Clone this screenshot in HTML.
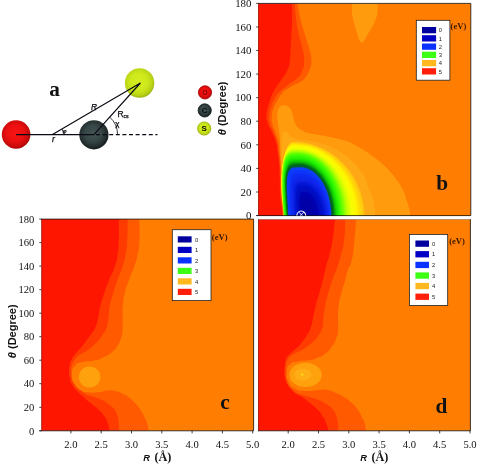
<!DOCTYPE html>
<html><head><meta charset="utf-8"><title>Potential energy surfaces</title>
<style>
html,body{margin:0;padding:0;background:#fff}
svg{display:block}
</style></head>
<body>
<svg width="477" height="465" viewBox="0 0 477 465">
<defs>
<clipPath id="cb"><rect x="258.2" y="3.4" width="212.6" height="212.5"/></clipPath>
<clipPath id="cc"><rect x="41.4" y="219.1" width="212.3" height="211.7"/></clipPath>
<clipPath id="cd"><rect x="258.2" y="219.5" width="212.4" height="211.3"/></clipPath>
<radialGradient id="gR" cx="0.47" cy="0.45" r="0.58"><stop offset="0" stop-color="#F81414"/><stop offset="0.5" stop-color="#EC1010"/><stop offset="0.8" stop-color="#CC0A0A"/><stop offset="1" stop-color="#980606"/></radialGradient>
<radialGradient id="gC" cx="0.47" cy="0.45" r="0.58"><stop offset="0" stop-color="#435454"/><stop offset="0.5" stop-color="#364545"/><stop offset="0.8" stop-color="#222C2C"/><stop offset="1" stop-color="#0C1212"/></radialGradient>
<radialGradient id="gS" cx="0.47" cy="0.45" r="0.58"><stop offset="0" stop-color="#D6EE20"/><stop offset="0.5" stop-color="#CEE81C"/><stop offset="0.8" stop-color="#BAD416"/><stop offset="1" stop-color="#96AA10"/></radialGradient>
<filter id="bl" x="-2%" y="-2%" width="104%" height="104%"><feGaussianBlur stdDeviation="0.55"/></filter>
</defs>
<rect width="477" height="465" fill="#fff"/>
<g clip-path="url(#cb)"><g filter="url(#bl)">
<rect x="254.2" y="-0.6" width="220.6" height="220.5" fill="#FF7D00"/>
<path d="M351.9 -2.0L352.0 14.8L354.8 25.8L358.7 38.7L361.0 42.6L362.6 42.8L365.2 38.7L369.0 32.3L373.0 25.8L377.4 14.8L378.0 -2.0Z" fill="#FF9B0E"/>
<path d="M410.3 222.0C410.3 220.3 410.7 221.7 410.3 217.0C409.9 212.3 410.3 213.7 409.0 208.0C407.7 202.3 408.5 206.0 406.5 200.0C404.5 194.0 406.1 196.6 402.9 190.0C399.7 183.4 401.2 186.3 397.0 180.3C392.8 174.3 395.3 177.5 390.3 171.9C385.3 166.3 387.5 168.5 381.9 163.5C376.3 158.5 379.1 161.0 373.5 156.8C367.9 152.6 370.8 154.6 365.2 151.0C359.6 147.4 362.4 149.0 356.8 145.9C351.2 142.8 354.0 143.9 348.4 141.7C342.8 139.5 345.4 140.6 340.0 139.2C334.6 137.8 338.0 138.9 332.2 137.6C326.4 136.3 329.0 136.6 322.7 135.4C316.4 134.2 318.7 134.9 313.3 133.9C307.9 132.9 310.3 133.6 306.5 132.5C302.7 131.4 304.8 132.3 302.0 130.6C299.2 128.9 300.3 129.9 298.0 127.5C295.7 125.1 296.7 126.7 295.2 123.5C293.7 120.3 294.7 122.2 293.5 118.0C292.3 113.8 293.2 114.7 291.5 111.0C289.8 107.3 290.8 108.9 288.3 107.0C285.8 105.1 286.8 105.3 284.0 105.3C281.2 105.3 282.1 105.1 280.0 107.0C277.9 108.9 278.7 108.0 277.8 111.0C276.9 114.0 277.1 111.0 277.3 116.0C277.5 121.0 277.4 118.0 278.3 126.0C279.2 134.0 279.3 130.3 280.0 140.0C280.7 149.7 280.2 138.3 280.5 155.0C280.8 171.7 280.2 169.3 281.0 190.0C281.8 210.7 282.3 206.3 283.0 217.0C283.7 227.7 283.0 220.3 283.0 222.0Z" fill="#FF9B0E"/>
<path d="M375.4 222.0C375.4 220.3 375.8 223.0 375.4 217.0C375.0 211.0 375.2 210.7 374.2 204.0C373.2 197.3 374.1 201.7 372.5 197.0C370.9 192.3 371.7 196.1 369.3 190.0C366.9 183.9 367.8 184.6 365.2 178.6C362.6 172.6 364.3 176.2 361.5 172.0C358.7 167.8 361.2 170.8 356.8 166.0C352.4 161.2 354.0 162.4 348.4 157.7C342.8 153.0 345.5 155.2 340.0 151.8C334.5 148.4 337.3 150.0 332.0 147.5C326.7 145.0 331.5 146.6 324.0 144.4C316.5 142.2 318.2 142.6 309.4 141.0C300.6 139.4 303.7 141.1 297.6 139.6C291.5 138.1 294.0 138.5 291.0 136.5C288.0 134.5 290.3 135.2 288.5 133.5C286.7 131.8 287.4 131.5 285.5 131.5C283.6 131.5 284.0 130.7 282.8 133.5C281.6 136.3 282.2 134.5 281.8 140.0C281.4 145.5 281.4 133.3 281.5 150.0C281.6 166.7 281.2 167.7 282.0 190.0C282.8 212.3 283.3 206.3 284.0 217.0C284.7 227.7 284.0 220.3 284.0 222.0Z" fill="#FFA812"/>
<path d="M364.6 217.0L364.1 208.6L362.8 200.2L360.6 192.1L357.5 184.3L353.6 176.9L349.0 170.1L343.6 163.8L337.6 158.1L331.1 153.2L324.1 149.2L316.6 145.9L308.9 143.6L301.0 142.2L293.0 141.7L291.3 142.2L289.6 143.6L288.1 145.9L286.6 149.2L285.3 153.2L284.1 158.1L283.2 163.8L282.5 170.1L281.9 176.9L281.6 184.3L281.5 192.1L281.6 200.2L281.9 208.6L282.3 217.0L282.5 222.0L364.6 222.0Z" fill="#FFC410"/>
<path d="M363.5 217.0L363.0 208.6L361.7 200.4L359.5 192.3L356.5 184.5L352.7 177.2L348.1 170.4L342.9 164.1L337.0 158.5L330.6 153.7L323.7 149.6L316.5 146.4L308.9 144.1L301.2 142.7L293.3 142.2L291.4 142.7L289.7 144.0L288.1 146.2L286.6 149.3L285.3 153.2L284.1 157.9L283.2 163.3L282.4 169.4L281.9 176.1L281.6 183.4L281.5 191.1L281.6 199.3L281.9 207.8L282.4 217.0L282.6 222.0L363.5 222.0Z" fill="#FFCA0D"/>
<path d="M362.3 217.0L361.9 208.7L360.6 200.5L358.4 192.5L355.5 184.8L351.8 177.5L347.3 170.7L342.2 164.5L336.4 158.9L330.2 154.1L323.4 150.1L316.3 146.9L308.9 144.6L301.3 143.2L293.6 142.7L291.5 143.1L289.7 144.4L288.1 146.5L286.6 149.5L285.2 153.2L284.1 157.8L283.2 163.0L282.4 168.9L281.9 175.4L281.6 182.5L281.5 190.2L281.6 198.4L281.9 207.1L282.5 217.0L282.7 222.0L362.3 222.0Z" fill="#FFD10B"/>
<path d="M361.2 217.0L360.7 208.7L359.5 200.6L357.4 192.6L354.5 185.0L350.8 177.7L346.5 171.0L341.5 164.8L335.8 159.3L329.7 154.5L323.1 150.5L316.1 147.3L308.9 145.0L301.4 143.7L293.9 143.2L291.6 143.6L289.8 144.8L288.1 146.9L286.6 149.7L285.2 153.3L284.1 157.6L283.2 162.7L282.4 168.4L281.9 174.8L281.6 181.7L281.5 189.3L281.7 197.5L282.0 206.4L282.6 217.0L282.8 222.0L361.2 222.0Z" fill="#FFD708"/>
<path d="M360.0 217.0L359.6 208.8L358.4 200.7L356.3 192.8L353.5 185.2L349.9 178.0L345.6 171.3L340.7 165.2L335.2 159.7L329.2 154.9L322.8 151.0L315.9 147.8L308.9 145.5L301.6 144.2L294.2 143.7L291.7 144.1L289.8 145.3L288.1 147.2L286.5 149.9L285.2 153.4L284.1 157.6L283.2 162.4L282.4 168.0L281.9 174.2L281.6 181.0L281.6 188.5L281.7 196.6L282.0 205.7L282.6 217.0L282.8 222.0L360.0 222.0Z" fill="#FFDF06"/>
<path d="M358.9 217.0L358.4 208.8L357.2 200.8L355.2 193.0L352.5 185.4L349.0 178.3L344.8 171.6L340.0 165.5L334.6 160.1L328.7 155.4L322.4 151.4L315.8 148.3L308.8 146.0L301.7 144.7L294.5 144.2L291.8 144.6L289.8 145.7L288.1 147.6L286.5 150.2L285.2 153.5L284.1 157.5L283.2 162.2L282.4 167.6L281.9 173.7L281.7 180.3L281.6 187.7L281.7 195.8L282.0 205.0L282.7 217.0L282.9 222.0L358.9 222.0Z" fill="#FFE804"/>
<path d="M357.7 217.0L357.3 208.9L356.1 200.9L354.2 193.1L351.5 185.6L348.1 178.5L344.0 171.9L339.3 165.9L334.0 160.5L328.3 155.8L322.1 151.9L315.6 148.8L308.8 146.5L301.9 145.2L294.8 144.7L291.9 145.1L289.9 146.1L288.1 147.9L286.5 150.4L285.2 153.6L284.1 157.5L283.2 162.1L282.5 167.3L282.0 173.2L281.7 179.7L281.6 187.0L281.7 195.0L282.1 204.3L282.8 217.0L283.0 222.0L357.7 222.0Z" fill="#FFF101"/>
<path d="M356.6 217.0L356.2 209.0L355.0 201.0L353.1 193.3L350.5 185.9L347.1 178.8L343.1 172.3L338.5 166.3L333.4 160.9L327.8 156.3L321.7 152.4L315.4 149.3L308.8 147.1L302.0 145.7L295.1 145.3L292.0 145.6L289.9 146.6L288.1 148.4L286.5 150.8L285.2 153.9L284.1 157.6L283.2 162.0L282.5 167.1L282.0 172.8L281.7 179.2L281.6 186.3L281.8 194.3L282.1 203.6L282.9 217.0L283.1 222.0L356.6 222.0Z" fill="#FEF700"/>
<path d="M355.4 217.0L355.0 209.0L353.9 201.2L352.0 193.5L349.4 186.2L346.2 179.2L342.3 172.7L337.8 166.7L332.8 161.4L327.3 156.8L321.4 153.0L315.1 149.9L308.7 147.7L302.0 146.4L295.3 145.9L292.0 146.3L289.9 147.2L288.1 148.9L286.5 151.2L285.2 154.2L284.1 157.8L283.2 162.0L282.5 166.9L282.0 172.5L281.8 178.8L281.7 185.8L281.8 193.7L282.2 203.0L283.0 217.0L283.2 222.0L355.4 222.0Z" fill="#FBF900"/>
<path d="M354.3 217.0L353.9 209.1L352.8 201.3L351.0 193.7L348.4 186.4L345.2 179.5L341.4 173.1L337.0 167.2L332.1 161.9L326.7 157.4L321.0 153.6L314.9 150.5L308.6 148.3L302.1 147.0L295.5 146.6L292.0 146.9L289.9 147.9L288.1 149.4L286.5 151.7L285.2 154.5L284.1 158.0L283.3 162.1L282.6 166.9L282.1 172.3L281.8 178.4L281.8 185.2L281.9 193.1L282.3 202.4L283.1 217.0L283.3 222.0L354.3 222.0Z" fill="#F8FB00"/>
<path d="M353.1 217.0L352.7 209.2L351.7 201.5L349.9 194.0L347.4 186.7L344.3 179.9L340.6 173.5L336.3 167.7L331.5 162.5L326.2 157.9L320.6 154.2L314.6 151.2L308.5 149.0L302.1 147.7L295.7 147.2L292.1 147.6L289.9 148.5L288.1 150.0L286.5 152.1L285.2 154.9L284.2 158.2L283.3 162.2L282.6 166.8L282.2 172.1L281.9 178.0L281.8 184.8L282.0 192.5L282.4 201.8L283.2 217.0L283.4 222.0L353.1 222.0Z" fill="#F5FD00"/>
<path d="M352.0 217.0L351.6 209.3L350.5 201.6L348.8 194.2L346.4 187.0L343.4 180.2L339.7 173.9L335.5 168.1L330.8 163.0L325.7 158.5L320.2 154.8L314.4 151.8L308.4 149.6L302.2 148.3L295.9 147.9L292.1 148.2L289.9 149.1L288.1 150.6L286.5 152.6L285.3 155.3L284.2 158.5L283.4 162.4L282.7 166.8L282.2 171.9L282.0 177.7L281.9 184.4L282.1 192.0L282.4 201.3L283.3 217.0L283.5 222.0L352.0 222.0Z" fill="#F1FF00"/>
<path d="M350.8 217.0L350.5 209.3L349.4 201.8L347.7 194.4L345.4 187.3L342.4 180.6L338.9 174.3L334.8 168.6L330.2 163.5L325.2 159.1L319.8 155.3L314.2 152.4L308.3 150.3L302.2 149.0L296.1 148.6L292.1 148.9L289.9 149.7L288.1 151.1L286.6 153.1L285.3 155.7L284.2 158.8L283.4 162.5L282.8 166.8L282.3 171.8L282.1 177.5L282.0 184.0L282.1 191.5L282.5 200.8L283.4 217.0L283.6 222.0L350.8 222.0Z" fill="#E3FF00"/>
<path d="M349.7 217.0L349.3 209.4L348.3 201.9L346.7 194.6L344.4 187.6L341.5 180.9L338.0 174.7L334.0 169.1L329.6 164.0L324.7 159.6L319.4 155.9L313.9 153.0L308.2 150.9L302.3 149.7L296.3 149.2L292.1 149.5L289.9 150.3L288.1 151.7L286.6 153.6L285.3 156.1L284.3 159.1L283.5 162.7L282.8 166.9L282.4 171.7L282.1 177.3L282.1 183.6L282.2 191.1L282.6 200.3L283.5 217.0L283.7 222.0L349.7 222.0Z" fill="#D5FF00"/>
<path d="M348.5 217.0L348.2 209.5L347.2 202.1L345.6 194.8L343.3 187.9L340.5 181.3L337.2 175.2L333.3 169.6L328.9 164.5L324.2 160.2L319.0 156.5L313.7 153.7L308.1 151.6L302.3 150.3L296.5 149.9L292.2 150.2L289.9 150.9L288.1 152.3L286.6 154.1L285.4 156.5L284.3 159.4L283.5 162.9L282.9 167.0L282.5 171.7L282.2 177.1L282.2 183.3L282.3 190.6L282.7 199.8L283.7 217.0L283.9 222.0L348.5 222.0Z" fill="#C7FF00"/>
<path d="M347.4 217.0L347.0 209.6L346.1 202.2L344.5 195.1L342.3 188.2L339.6 181.7L336.3 175.6L332.5 170.0L328.3 165.1L323.6 160.8L318.7 157.2L313.4 154.3L308.0 152.2L302.4 151.0L296.7 150.6L292.2 150.8L289.9 151.6L288.1 152.9L286.6 154.6L285.4 156.9L284.4 159.8L283.6 163.1L283.0 167.1L282.6 171.7L282.3 176.9L282.3 183.0L282.4 190.3L282.8 199.4L283.8 217.0L284.0 222.0L347.4 222.0Z" fill="#B5FF00"/>
<path d="M346.2 217.0L345.9 209.6L345.0 202.4L343.4 195.3L341.3 188.5L338.6 182.0L335.4 176.0L331.8 170.5L327.6 165.6L323.1 161.3L318.3 157.8L313.2 155.0L307.9 152.9L302.4 151.7L296.9 151.3L292.2 151.5L289.9 152.2L288.2 153.5L286.7 155.2L285.5 157.4L284.5 160.2L283.7 163.4L283.1 167.3L282.7 171.7L282.4 176.8L282.4 182.8L282.5 189.9L282.9 198.9L283.9 217.0L284.1 222.0L346.2 222.0Z" fill="#9EFF00"/>
<path d="M345.1 217.0L344.7 209.7L343.8 202.5L342.4 195.5L340.3 188.8L337.7 182.4L334.6 176.4L331.0 171.0L327.0 166.1L322.6 161.9L317.9 158.4L312.9 155.6L307.7 153.6L302.4 152.4L297.1 152.0L292.3 152.2L290.0 152.9L288.2 154.1L286.7 155.7L285.6 157.9L284.6 160.5L283.8 163.7L283.2 167.4L282.8 171.8L282.5 176.8L282.5 182.6L282.6 189.6L283.0 198.5L284.1 217.0L284.3 222.0L345.1 222.0Z" fill="#87FF00"/>
<path d="M343.9 217.0L343.6 209.8L342.7 202.7L341.3 195.7L339.3 189.1L336.8 182.8L333.7 176.9L330.2 171.5L326.3 166.7L322.1 162.5L317.5 159.0L312.7 156.3L307.6 154.3L302.5 153.1L297.3 152.7L292.3 152.9L290.0 153.6L288.2 154.7L286.8 156.3L285.6 158.4L284.7 161.0L283.9 164.0L283.3 167.6L282.9 171.8L282.7 176.7L282.6 182.4L282.7 189.3L283.1 198.2L284.2 217.0L284.4 222.0L343.9 222.0Z" fill="#71FF00"/>
<path d="M342.8 217.0L342.5 209.9L341.6 202.8L340.2 196.0L338.3 189.4L335.8 183.1L332.9 177.3L329.5 172.0L325.7 167.2L321.6 163.1L317.1 159.7L312.4 156.9L307.5 154.9L302.5 153.7L297.5 153.3L292.4 153.6L290.1 154.2L288.3 155.3L286.9 156.9L285.7 158.9L284.8 161.4L284.0 164.4L283.4 167.9L283.0 172.0L282.8 176.7L282.7 182.3L282.9 189.1L283.2 197.8L284.3 217.0L284.5 222.0L342.8 222.0Z" fill="#5BFF00"/>
<path d="M341.6 217.0L341.3 210.0L340.5 203.0L339.1 196.3L337.3 189.8L334.9 183.6L332.0 177.9L328.7 172.7L325.1 168.0L321.1 163.9L316.7 160.5L312.2 157.8L307.5 155.9L302.6 154.7L297.7 154.3L292.5 154.5L290.2 155.1L288.4 156.2L287.0 157.7L285.9 159.6L284.9 162.0L284.2 164.9L283.6 168.3L283.2 172.3L283.0 176.9L282.9 182.3L283.1 188.9L283.4 197.6L284.6 217.0L284.8 222.0L341.6 222.0Z" fill="#46FD00"/>
<path d="M340.5 217.0L340.2 210.1L339.4 203.4L338.1 196.8L336.2 190.4L333.9 184.4L331.2 178.8L328.0 173.7L324.5 169.1L320.6 165.1L316.4 161.8L312.0 159.2L307.4 157.3L302.7 156.1L298.0 155.7L292.6 155.9L290.4 156.5L288.7 157.6L287.3 159.0L286.2 160.8L285.3 163.1L284.5 165.9L284.0 169.1L283.6 173.0L283.4 177.4L283.3 182.7L283.5 189.1L283.8 197.5L284.9 217.0L285.1 222.0L340.5 222.0Z" fill="#36F800"/>
<path d="M339.3 217.0L339.0 210.3L338.3 203.7L337.0 197.2L335.2 191.0L333.0 185.2L330.3 179.7L327.3 174.7L323.8 170.2L320.1 166.3L316.0 163.1L311.8 160.5L307.4 158.7L302.8 157.5L298.2 157.2L292.8 157.4L290.6 157.9L288.9 158.9L287.6 160.3L286.5 162.0L285.6 164.2L284.9 166.9L284.4 170.0L284.0 173.7L283.8 178.0L283.7 183.0L283.8 189.3L284.2 197.5L285.3 217.0L285.5 222.0L339.3 222.0Z" fill="#26F300"/>
<path d="M338.2 217.0L337.9 210.5L337.2 204.0L335.9 197.7L334.2 191.7L332.1 185.9L329.5 180.6L326.5 175.7L323.2 171.3L319.6 167.5L315.7 164.4L311.6 161.9L307.3 160.1L302.9 159.0L298.5 158.6L293.0 158.8L290.8 159.3L289.2 160.3L287.9 161.6L286.8 163.3L285.9 165.4L285.3 167.9L284.7 170.9L284.4 174.4L284.2 178.5L284.1 183.4L284.2 189.5L284.6 197.5L285.7 217.0L285.9 222.0L338.2 222.0Z" fill="#1CE500"/>
<path d="M337.0 217.0L336.8 210.6L336.0 204.3L334.9 198.2L333.2 192.3L331.1 186.7L328.7 181.5L325.8 176.7L322.6 172.5L319.1 168.8L315.4 165.7L311.4 163.2L307.3 161.4L303.0 160.4L298.8 160.0L293.2 160.2L291.1 160.7L289.5 161.6L288.2 162.9L287.1 164.5L286.3 166.5L285.6 168.9L285.1 171.8L284.7 175.2L284.5 179.1L284.5 183.9L284.6 189.7L284.9 197.5L286.1 217.0L286.3 222.0L337.0 222.0Z" fill="#15D300"/>
<path d="M335.9 217.0L335.6 210.8L334.9 204.6L333.8 198.7L332.2 192.9L330.2 187.4L327.8 182.4L325.1 177.7L322.0 173.6L318.6 170.0L315.0 167.0L311.2 164.6L307.2 162.8L303.1 161.8L299.0 161.4L293.5 161.6L291.3 162.1L289.7 163.0L288.5 164.2L287.5 165.7L286.6 167.6L286.0 170.0L285.5 172.7L285.1 176.0L284.9 179.8L284.9 184.3L285.0 190.0L285.3 197.6L286.4 217.0L286.6 222.0L335.9 222.0Z" fill="#0DB704"/>
<path d="M334.7 217.0L334.5 210.9L333.8 205.0L332.7 199.1L331.2 193.5L329.3 188.2L327.0 183.3L324.3 178.7L321.4 174.7L318.1 171.2L314.7 168.2L311.0 165.9L307.2 164.2L303.3 163.2L299.3 162.9L293.7 163.0L291.6 163.5L290.0 164.3L288.8 165.5L287.8 166.9L287.0 168.8L286.4 171.0L285.9 173.6L285.5 176.8L285.3 180.4L285.3 184.8L285.4 190.3L285.7 197.6L286.8 217.0L287.0 222.0L334.7 222.0Z" fill="#068C0F"/>
<path d="M333.6 217.0L333.3 211.1L332.7 205.3L331.6 199.6L330.2 194.1L328.3 188.9L326.1 184.1L323.6 179.7L320.8 175.8L317.6 172.4L314.3 169.5L310.8 167.2L307.1 165.6L303.4 164.6L299.6 164.3L293.9 164.4L291.8 164.9L290.3 165.7L289.1 166.7L288.1 168.2L287.4 169.9L286.7 172.0L286.3 174.6L285.9 177.6L285.7 181.1L285.7 185.3L285.8 190.6L286.1 197.8L287.2 217.0L287.4 222.0L333.6 222.0Z" fill="#00681D"/>
<path d="M332.4 217.0L332.2 211.2L331.6 205.5L330.6 200.0L329.2 194.7L327.4 189.6L325.3 184.9L322.9 180.6L320.1 176.8L317.1 173.4L313.9 170.6L310.6 168.4L307.1 166.8L303.5 165.8L299.8 165.5L294.1 165.7L292.1 166.1L290.6 166.8L289.5 167.9L288.5 169.2L287.8 170.9L287.2 173.0L286.7 175.4L286.4 178.3L286.2 181.7L286.2 185.8L286.3 190.9L286.6 197.8L287.7 217.0L287.9 222.0L332.4 222.0Z" fill="#006031"/>
<path d="M331.3 217.0L331.1 211.4L330.5 205.9L329.5 200.6L328.2 195.4L326.5 190.5L324.5 186.0L322.1 181.8L319.5 178.1L316.7 174.8L313.6 172.1L310.4 170.0L307.1 168.5L303.6 167.5L300.2 167.2L294.6 167.4L292.6 167.8L291.2 168.5L290.1 169.5L289.2 170.8L288.4 172.4L287.9 174.3L287.4 176.6L287.1 179.4L286.9 182.7L286.9 186.6L287.0 191.5L287.3 198.2L288.4 217.0L288.6 222.0L331.3 222.0Z" fill="#113EFE"/>
<path d="M330.1 217.0L329.9 211.8L329.4 206.7L328.5 201.6L327.2 196.8L325.6 192.3L323.7 188.0L321.5 184.1L319.1 180.7L316.4 177.6L313.6 175.1L310.5 173.1L307.4 171.7L304.2 170.8L300.9 170.5L295.7 170.7L293.9 171.0L292.6 171.7L291.5 172.6L290.7 173.8L290.0 175.3L289.5 177.2L289.1 179.3L288.8 181.9L288.6 184.9L288.6 188.6L288.7 193.2L288.9 199.4L290.0 217.0L290.2 222.0L330.1 222.0Z" fill="#0E35F8"/>
<path d="M329.0 217.0L328.8 212.2L328.3 207.4L327.4 202.7L326.2 198.3L324.8 194.0L323.0 190.1L320.9 186.5L318.7 183.2L316.2 180.4L313.5 178.1L310.7 176.2L307.7 174.9L304.7 174.1L301.6 173.8L296.8 173.9L295.1 174.3L293.9 174.9L293.0 175.8L292.2 176.9L291.6 178.3L291.1 180.0L290.7 182.0L290.5 184.4L290.3 187.2L290.3 190.6L290.4 194.9L290.6 200.7L291.6 217.0L291.8 222.0L329.0 222.0Z" fill="#0A2CF2"/>
<path d="M327.8 217.0L327.6 212.5L327.2 208.1L326.4 203.8L325.3 199.7L323.9 195.8L322.3 192.1L320.3 188.8L318.2 185.8L315.9 183.2L313.4 181.1L310.8 179.4L308.0 178.1L305.2 177.4L302.4 177.1L298.0 177.2L296.4 177.6L295.3 178.1L294.4 178.9L293.7 180.0L293.1 181.3L292.7 182.8L292.4 184.7L292.1 186.9L292.0 189.5L291.9 192.6L292.0 196.6L292.3 201.9L293.1 217.0L293.3 222.0L327.8 222.0Z" fill="#0925E9"/>
<path d="M326.7 217.0L326.5 212.9L326.1 208.8L325.3 204.9L324.3 201.0L323.0 197.4L321.5 194.1L319.7 191.0L317.8 188.2L315.6 185.9L313.3 183.9L310.8 182.3L308.3 181.1L305.7 180.5L303.0 180.2L299.0 180.3L297.6 180.6L296.6 181.2L295.8 181.9L295.1 182.8L294.6 184.0L294.2 185.5L293.9 187.2L293.7 189.2L293.6 191.6L293.5 194.5L293.6 198.1L293.8 203.1L294.6 217.0L294.8 222.0L326.7 222.0Z" fill="#081FE1"/>
<path d="M325.5 217.0L325.4 213.1L324.9 209.2L324.3 205.4L323.3 201.8L322.1 198.3L320.7 195.1L319.0 192.2L317.1 189.6L315.1 187.3L312.9 185.4L310.6 183.9L308.2 182.8L305.8 182.1L303.3 181.9L299.5 182.0L298.2 182.3L297.2 182.8L296.5 183.5L295.9 184.4L295.4 185.6L295.0 186.9L294.7 188.6L294.5 190.5L294.4 192.8L294.4 195.6L294.4 199.0L294.6 203.7L295.4 217.0L295.6 222.0L325.5 222.0Z" fill="#071BDA"/>
<path d="M324.4 217.0L324.2 213.3L323.8 209.6L323.2 206.0L322.3 202.5L321.2 199.2L319.8 196.2L318.3 193.4L316.5 190.9L314.6 188.7L312.6 186.9L310.4 185.5L308.2 184.5L305.9 183.8L303.6 183.6L300.0 183.7L298.8 184.0L297.9 184.5L297.2 185.1L296.6 186.0L296.1 187.1L295.8 188.4L295.5 189.9L295.3 191.8L295.2 194.0L295.2 196.6L295.3 199.9L295.5 204.4L296.2 217.0L296.4 222.0L324.4 222.0Z" fill="#0516D3"/>
<path d="M323.2 217.0L323.1 213.5L322.7 210.0L322.1 206.5L321.3 203.3L320.2 200.1L319.0 197.2L317.5 194.6L315.9 192.2L314.1 190.2L312.2 188.5L310.2 187.1L308.1 186.1L306.0 185.5L303.8 185.3L300.5 185.4L299.3 185.7L298.5 186.1L297.8 186.8L297.3 187.6L296.9 188.6L296.6 189.8L296.3 191.3L296.1 193.1L296.0 195.1L296.0 197.6L296.1 200.8L296.3 205.0L297.0 217.0L297.2 222.0L323.2 222.0Z" fill="#0411CB"/>
<path d="M322.1 217.0L321.9 213.6L321.6 210.3L321.0 207.1L320.3 204.0L319.3 201.0L318.1 198.3L316.8 195.8L315.3 193.6L313.6 191.6L311.9 190.0L310.0 188.7L308.1 187.8L306.1 187.2L304.1 187.0L301.0 187.1L299.9 187.4L299.1 187.8L298.5 188.4L298.0 189.2L297.7 190.1L297.3 191.3L297.1 192.7L297.0 194.3L296.9 196.3L296.9 198.7L296.9 201.6L297.1 205.7L297.8 217.0L298.0 222.0L322.1 222.0Z" fill="#030EC5"/>
<path d="M320.9 217.0L320.8 213.8L320.5 210.7L320.0 207.7L319.3 204.7L318.4 202.0L317.3 199.4L316.0 197.0L314.7 194.9L313.2 193.1L311.5 191.5L309.8 190.3L308.0 189.4L306.2 188.9L304.3 188.7L301.5 188.8L300.5 189.0L299.8 189.4L299.2 190.0L298.8 190.7L298.4 191.6L298.1 192.8L297.9 194.1L297.8 195.6L297.7 197.5L297.7 199.7L297.8 202.5L297.9 206.3L298.5 217.0L298.7 222.0L320.9 222.0Z" fill="#020BC0"/>
<path d="M319.8 217.0L319.7 214.0L319.4 211.1L318.9 208.2L318.2 205.5L317.4 202.9L316.4 200.4L315.3 198.2L314.0 196.2L312.7 194.5L311.2 193.0L309.6 191.9L308.0 191.1L306.3 190.6L304.6 190.4L302.0 190.5L301.1 190.7L300.4 191.1L299.9 191.6L299.5 192.3L299.2 193.2L298.9 194.2L298.7 195.4L298.6 196.9L298.5 198.7L298.5 200.8L298.6 203.4L298.7 207.0L299.3 217.0L299.5 222.0L319.8 222.0Z" fill="#0108BA"/>
<path d="M318.6 217.0L318.5 214.2L318.3 211.5L317.8 208.8L317.2 206.2L316.5 203.8L315.6 201.5L314.6 199.4L313.4 197.5L312.2 195.9L310.8 194.6L309.4 193.5L307.9 192.7L306.4 192.3L304.9 192.1L302.5 192.2L301.7 192.4L301.1 192.7L300.6 193.2L300.2 193.9L299.9 194.7L299.7 195.7L299.5 196.8L299.4 198.2L299.3 199.8L299.3 201.8L299.4 204.2L299.6 207.6L300.1 217.0L300.3 222.0L318.6 222.0Z" fill="#0005B5"/>
<path d="M317.5 217.0L317.4 214.4L317.1 211.8L316.8 209.3L316.2 206.9L315.6 204.7L314.8 202.6L313.8 200.6L312.8 198.9L311.7 197.4L310.5 196.1L309.2 195.1L307.8 194.4L306.5 194.0L305.1 193.8L302.9 193.9L302.2 194.1L301.6 194.4L301.2 194.9L300.9 195.5L300.6 196.2L300.4 197.1L300.2 198.2L300.1 199.5L300.1 201.0L300.1 202.8L300.1 205.1L300.3 208.2L300.8 217.0L301.0 222.0L317.5 222.0Z" fill="#0004B1"/>
<path d="M316.3 217.0L316.2 214.6L316.0 212.2L315.7 209.9L315.2 207.7L314.6 205.6L313.9 203.6L313.1 201.8L312.2 200.2L311.1 198.8L310.1 197.7L308.9 196.8L307.7 196.1L306.5 195.7L305.3 195.5L303.3 195.6L302.6 195.8L302.1 196.1L301.7 196.5L301.4 197.1L301.2 197.8L301.0 198.6L300.8 199.6L300.7 200.8L300.7 202.2L300.7 203.9L300.8 206.0L300.9 208.9L301.4 217.0L301.6 222.0L316.3 222.0Z" fill="#0003AE"/>
<path d="M315.2 217.0L315.1 214.8L314.9 212.6L314.6 210.5L314.2 208.4L313.7 206.5L313.0 204.7L312.3 203.1L311.5 201.6L310.6 200.3L309.7 199.2L308.7 198.4L307.6 197.8L306.6 197.4L305.5 197.3L303.7 197.3L303.1 197.5L302.6 197.8L302.3 198.2L302.0 198.7L301.8 199.3L301.6 200.1L301.5 201.0L301.4 202.1L301.3 203.4L301.3 204.9L301.4 206.9L301.5 209.5L301.9 217.0L302.1 222.0L315.2 222.0Z" fill="#0002AB"/>
<path d="M314.0 217.0L313.9 215.0L313.8 213.0L313.5 211.1L313.2 209.2L312.7 207.4L312.2 205.8L311.6 204.3L310.9 202.9L310.1 201.8L309.3 200.8L308.4 200.0L307.5 199.5L306.6 199.1L305.7 199.0L304.1 199.1L303.5 199.2L303.1 199.5L302.8 199.8L302.5 200.3L302.3 200.9L302.2 201.6L302.1 202.4L302.0 203.4L302.0 204.6L302.0 206.0L302.0 207.8L302.1 210.2L302.5 217.0L302.7 222.0L314.0 222.0Z" fill="#0001A9"/>
<path d="M312.9 217.0L312.8 215.2L312.7 213.4L312.5 211.6L312.2 209.9L311.8 208.3L311.3 206.9L310.8 205.5L310.2 204.3L309.6 203.2L308.9 202.3L308.2 201.6L307.4 201.1L306.6 200.8L305.9 200.7L304.4 200.8L303.9 200.9L303.6 201.1L303.3 201.5L303.1 201.9L302.9 202.4L302.8 203.0L302.7 203.8L302.6 204.7L302.6 205.8L302.6 207.1L302.6 208.7L302.7 210.8L303.1 217.0L303.3 222.0L312.9 222.0Z" fill="#0001A6"/>
<path d="M298.0 -2.0C298.0 -0.3 297.3 -3.4 298.0 3.0C298.7 9.4 297.8 6.7 300.1 17.2C302.4 27.7 301.6 22.9 304.9 34.4C308.2 45.9 307.9 43.0 310.1 51.6C312.3 60.2 311.1 55.4 311.4 60.2C311.7 65.0 311.5 62.7 310.9 66.0C310.3 69.3 311.3 66.1 309.5 70.0C307.7 73.9 308.5 73.6 305.4 77.6C302.3 81.6 304.0 79.5 300.2 82.0C296.4 84.5 298.6 82.6 294.1 85.1C289.6 87.6 290.4 87.1 286.6 89.6C282.8 92.1 285.8 89.1 282.8 92.6C279.8 96.1 280.6 95.2 277.6 100.2C274.6 105.2 275.7 102.7 273.8 107.7C271.9 112.7 272.4 110.1 271.9 115.2C271.4 120.3 271.3 117.6 272.3 123.0C273.3 128.4 273.0 125.3 275.0 131.5C277.0 137.7 276.9 134.6 278.4 141.5C279.9 148.4 278.9 145.1 279.6 152.3C280.3 159.5 280.1 155.4 280.6 163.0C281.1 170.6 280.7 165.5 281.0 175.0C281.3 184.5 280.9 182.3 281.4 191.6C281.9 200.9 281.6 194.5 282.4 203.0C283.2 211.5 283.3 210.7 283.8 217.0C284.3 223.3 283.8 220.3 283.8 222.0L254.0 220.0L254.0 0.0Z" fill="#FF5A00"/>
<path d="M294.9 -2.0C294.9 -0.3 294.5 -3.4 294.9 3.0C295.3 9.4 294.7 6.7 296.0 17.2C297.3 27.7 296.5 22.9 298.9 34.4C301.3 45.9 301.5 42.2 303.2 51.6C304.9 61.0 304.2 56.4 303.9 62.5C303.6 68.6 304.4 65.0 302.4 70.0C300.4 75.0 302.7 72.6 297.9 77.6C293.1 82.6 294.4 80.1 288.1 85.1C281.8 90.1 283.8 87.6 279.0 92.6C274.2 97.6 276.5 95.2 273.8 100.2C271.1 105.2 272.3 102.7 270.8 107.7C269.3 112.7 269.6 110.1 269.3 115.2C269.0 120.3 268.7 117.6 270.0 123.0C271.3 128.4 271.0 125.3 273.3 131.5C275.6 137.7 275.2 134.6 277.0 141.5C278.8 148.4 277.7 145.1 278.6 152.3C279.5 159.5 279.2 155.4 279.8 163.0C280.4 170.6 280.0 165.5 280.3 175.0C280.6 184.5 280.2 182.3 280.7 191.6C281.2 200.9 280.9 194.5 281.7 203.0C282.5 211.5 282.7 210.7 283.2 217.0C283.7 223.3 283.2 220.3 283.2 222.0L254.0 220.0L254.0 0.0Z" fill="#FF3A00"/>
<path d="M292.0 -2.0C292.0 -0.3 292.0 -4.3 292.0 3.0C292.0 10.3 292.2 9.3 292.0 20.0C291.8 30.7 291.8 24.3 291.3 35.0C290.8 45.7 291.0 42.8 290.4 52.0C289.8 61.2 290.6 56.5 289.6 62.5C288.6 68.5 289.7 65.0 287.4 70.0C285.1 75.0 286.1 72.6 282.8 77.6C279.5 82.6 280.9 80.1 277.6 85.1C274.3 90.1 275.5 87.6 273.0 92.6C270.5 97.6 271.7 95.2 270.0 100.2C268.3 105.2 269.0 102.7 267.8 107.7C266.6 112.7 266.6 110.1 266.5 115.2C266.4 120.3 265.9 117.6 267.6 123.0C269.3 128.4 268.8 125.3 271.5 131.5C274.2 137.7 273.6 134.6 275.6 141.5C277.6 148.4 276.5 145.1 277.6 152.3C278.7 159.5 278.3 155.4 279.0 163.0C279.7 170.6 279.3 165.5 279.6 175.0C279.9 184.5 279.5 182.3 280.0 191.6C280.5 200.9 280.1 194.5 281.0 203.0C281.9 211.5 282.1 210.7 282.6 217.0C283.1 223.3 282.6 220.3 282.6 222.0L254.0 220.0L254.0 0.0Z" fill="#FF1400"/>
</g></g>
<g clip-path="url(#cc)"><g filter="url(#bl)">
<rect x="37.4" y="215" width="220.6" height="220" fill="#FF7D00"/>
<path d="M139.4 213.0C139.4 214.7 139.4 208.7 139.4 218.0C139.4 227.3 140.0 228.5 139.4 240.8C138.8 253.1 139.2 246.4 137.5 255.0C135.8 263.6 137.0 258.3 134.2 266.6C131.4 274.9 132.1 271.4 129.0 280.0C125.9 288.6 127.0 284.1 125.0 292.4C123.0 300.7 123.8 296.5 123.0 305.0C122.2 313.5 122.8 309.7 122.6 318.0C122.4 326.3 123.0 323.3 122.5 330.0C122.0 336.7 122.7 332.7 121.0 338.0C119.3 343.3 120.4 341.1 117.4 345.8C114.4 350.5 116.5 348.3 112.0 352.0C107.5 355.7 109.9 354.2 104.0 357.0C98.1 359.8 101.2 358.8 94.2 360.5C87.2 362.2 89.4 360.2 83.0 362.0C76.6 363.8 78.7 361.7 75.0 366.0C71.3 370.3 72.3 368.8 72.0 375.0C71.7 381.2 71.3 379.5 74.0 384.5C76.7 389.5 74.7 387.3 80.0 390.0C85.3 392.7 83.3 391.8 90.0 392.5C96.7 393.2 94.0 392.7 100.0 392.0C106.0 391.3 103.0 390.8 108.0 390.5C113.0 390.2 110.3 390.0 115.0 391.0C119.7 392.0 117.3 391.4 122.0 393.5C126.7 395.6 124.7 394.2 129.0 397.4C133.3 400.6 131.1 398.8 135.0 403.0C138.9 407.2 137.3 405.0 140.6 410.0C143.9 415.0 142.7 413.0 145.0 418.0C147.3 423.0 146.4 420.3 147.5 425.0C148.6 429.7 148.1 428.0 148.4 432.0C148.7 436.0 148.4 435.3 148.4 437.0L37.4 436.0L37.4 214.0Z" fill="#FF5A00"/>
<path d="M127.7 213.0C127.7 214.7 127.9 208.7 127.7 218.0C127.5 227.3 127.9 228.5 127.2 240.8C126.5 253.1 127.0 246.4 125.5 255.0C124.0 263.6 125.3 258.3 122.6 266.6C119.9 274.9 120.5 271.4 117.5 280.0C114.5 288.6 116.0 284.1 113.5 292.4C111.0 300.7 111.7 296.5 110.0 305.0C108.3 313.5 109.6 310.3 108.4 318.0C107.2 325.7 108.6 322.2 106.5 328.0C104.4 333.8 104.8 331.2 102.0 335.5C99.2 339.8 101.0 337.6 98.0 341.0C95.0 344.4 96.3 342.8 93.0 345.8C89.7 348.8 91.5 347.6 88.0 350.0C84.5 352.4 85.9 351.0 82.6 353.0C79.3 355.0 80.6 353.8 78.0 356.0C75.4 358.2 76.8 356.5 74.8 359.5C72.8 362.5 73.3 360.8 72.0 365.0C70.7 369.2 71.0 367.3 71.0 372.0C71.0 376.7 70.7 374.8 72.0 379.0C73.3 383.2 72.8 381.3 74.8 384.5C76.8 387.7 75.4 386.0 78.0 388.5C80.6 391.0 79.3 389.8 82.6 392.0C85.9 394.2 83.7 393.2 88.0 395.0C92.3 396.8 90.8 395.7 95.5 397.4C100.2 399.1 98.2 398.1 102.0 400.0C105.8 401.9 103.8 400.8 107.0 403.0C110.2 405.2 108.9 404.2 111.5 406.5C114.1 408.8 112.8 406.8 114.8 410.0C116.8 413.2 116.2 411.7 117.5 416.0C118.8 420.3 118.3 417.7 118.7 423.0C119.1 428.3 118.7 427.3 118.7 432.0C118.7 436.7 118.7 435.3 118.7 437.0L37.4 436.0L37.4 214.0Z" fill="#FF3A00"/>
<path d="M118.7 213.0C118.7 214.7 118.7 208.7 118.7 218.0C118.7 227.3 119.1 228.5 118.7 240.8C118.3 253.1 118.8 246.4 117.5 255.0C116.2 263.6 117.6 258.3 114.8 266.6C112.0 274.9 112.4 271.4 109.0 280.0C105.6 288.6 107.3 284.1 104.5 292.4C101.7 300.7 102.7 296.5 100.5 305.0C98.3 313.5 99.8 310.3 98.0 318.0C96.2 325.7 97.7 322.2 95.0 328.0C92.3 333.8 93.0 331.2 90.0 335.5C87.0 339.8 88.5 337.6 86.0 341.0C83.5 344.4 85.6 342.1 82.6 345.8C79.6 349.5 80.5 347.7 77.0 352.0C73.5 356.3 74.4 354.4 72.0 358.7C69.6 363.0 70.7 360.6 69.7 365.0C68.7 369.4 68.9 367.3 69.0 372.0C69.1 376.7 69.0 374.8 70.0 379.0C71.0 383.2 69.7 380.5 72.0 384.5C74.3 388.5 73.0 386.7 77.0 391.0C81.0 395.3 79.2 393.2 83.9 397.4C88.6 401.6 86.0 399.3 91.0 403.5C96.0 407.7 94.7 405.8 99.0 410.0C103.3 414.2 101.1 411.7 104.0 416.0C106.9 420.3 105.7 417.7 107.6 423.0C109.5 428.3 109.0 427.3 109.7 432.0C110.4 436.7 109.7 435.3 109.7 437.0L37.4 436.0L37.4 214.0Z" fill="#FF1400"/>
<ellipse cx="89.6" cy="377" rx="10.8" ry="10.6" fill="#FFA010"/>
</g></g>
<g clip-path="url(#cd)"><g filter="url(#bl)">
<rect x="254.2" y="215" width="220.6" height="220" fill="#FF7D00"/>
<path d="M356.2 213.0C356.2 214.7 356.8 208.7 356.2 218.0C355.6 227.3 355.9 226.8 354.4 240.8C352.9 254.8 354.0 250.3 351.8 260.0C349.6 269.7 350.0 263.3 347.8 270.0C345.6 276.7 347.4 272.5 345.3 280.0C343.2 287.5 343.7 284.1 341.5 292.4C339.3 300.7 340.0 296.5 338.8 305.0C337.6 313.5 338.2 309.7 338.0 318.0C337.8 326.3 338.7 323.3 338.1 330.0C337.5 336.7 338.2 332.7 336.3 338.0C334.4 343.3 336.2 340.5 332.4 345.8C328.6 351.1 330.0 349.9 324.8 354.0C319.6 358.1 321.6 356.0 316.8 358.0C312.0 360.0 316.8 358.8 310.5 360.0C304.2 361.2 304.7 360.0 297.8 361.5C290.9 363.0 293.4 361.0 289.8 364.5C286.2 368.0 287.4 366.2 287.0 372.0C286.6 377.8 286.0 376.5 288.6 382.0C291.2 387.5 289.4 385.5 294.8 388.5C300.2 391.5 296.6 390.5 304.8 391.0C313.0 391.5 312.2 390.3 319.5 390.0C326.8 389.7 321.7 389.2 326.8 390.0C331.9 390.8 329.1 390.2 334.8 392.5C340.5 394.8 338.3 393.5 344.0 397.0C349.7 400.5 347.1 398.7 351.8 403.0C356.5 407.3 354.5 405.0 358.0 410.0C361.5 415.0 360.1 413.7 362.3 418.0C364.5 422.3 363.5 418.3 364.7 423.0C365.9 427.7 365.6 427.3 366.0 432.0C366.4 436.7 366.0 435.3 366.0 437.0L254.2 436.0L254.2 214.0Z" fill="#FF5A00"/>
<path d="M345.3 213.0C345.3 214.7 345.7 208.7 345.3 218.0C344.9 227.3 345.5 228.5 344.0 240.8C342.5 253.1 342.9 246.4 340.8 255.0C338.7 263.6 340.4 258.3 337.6 266.6C334.8 274.9 335.3 271.4 332.3 280.0C329.3 288.6 330.8 284.1 328.5 292.4C326.2 300.7 327.0 296.5 325.3 305.0C323.6 313.5 324.4 310.3 323.4 318.0C322.4 325.7 324.0 322.2 322.3 328.0C320.6 333.8 321.1 331.2 318.3 335.5C315.5 339.8 317.3 337.5 313.8 341.0C310.3 344.5 311.8 343.0 307.8 346.0C303.8 349.0 305.8 347.7 301.8 350.0C297.8 352.3 299.5 351.0 295.8 353.0C292.1 355.0 293.5 353.8 290.8 356.0C288.1 358.2 289.4 356.5 287.8 359.5C286.2 362.5 286.7 360.8 286.0 365.0C285.3 369.2 285.5 367.3 285.6 372.0C285.7 376.7 285.3 374.7 286.3 379.0C287.3 383.3 286.6 381.5 288.6 385.0C290.6 388.5 289.5 386.8 292.2 389.5C294.9 392.2 292.9 391.0 296.8 393.0C300.7 395.0 298.8 393.9 303.8 395.5C308.8 397.1 306.8 396.3 311.8 397.8C316.8 399.3 314.5 398.3 318.8 400.0C323.1 401.7 321.1 400.8 324.8 403.0C328.5 405.2 327.0 404.2 329.8 406.5C332.6 408.8 331.1 406.8 333.3 410.0C335.5 413.2 334.8 411.7 336.3 416.0C337.8 420.3 337.1 417.7 337.8 423.0C338.5 428.3 338.1 427.3 338.3 432.0C338.5 436.7 338.3 435.3 338.3 437.0L254.2 436.0L254.2 214.0Z" fill="#FF3A00"/>
<path d="M335.0 213.0C335.0 214.7 335.9 208.7 335.0 218.0C334.1 227.3 334.3 228.5 332.4 240.8C330.5 253.1 331.4 246.4 329.3 255.0C327.2 263.6 328.2 258.3 326.0 266.6C323.8 274.9 325.0 271.4 322.8 280.0C320.6 288.6 321.8 284.1 319.5 292.4C317.2 300.7 318.0 296.5 315.8 305.0C313.6 313.5 314.8 310.3 313.0 318.0C311.2 325.7 312.6 322.2 310.5 328.0C308.4 333.8 309.2 331.2 306.6 335.5C304.0 339.8 305.4 337.6 302.8 341.0C300.2 344.4 301.6 343.0 298.9 345.8C296.2 348.6 297.4 347.1 294.8 349.5C292.2 351.9 293.3 350.8 291.0 353.0C288.7 355.2 289.5 354.1 287.8 356.0C286.1 357.9 287.0 355.7 286.0 358.7C285.0 361.7 285.3 360.7 284.8 365.0C284.3 369.3 284.3 367.3 284.4 371.6C284.5 375.9 284.1 373.7 285.1 378.0C286.1 382.3 285.6 381.0 287.4 384.5C289.2 388.0 288.3 386.0 290.4 388.5C292.5 391.0 291.2 389.8 293.7 392.0C296.2 394.2 294.8 393.2 297.8 395.0C300.8 396.8 298.7 394.7 302.7 397.4C306.7 400.1 304.7 398.8 309.8 403.0C314.9 407.2 313.8 405.7 318.0 410.0C322.2 414.3 319.6 411.7 322.3 416.0C325.0 420.3 323.9 417.7 326.0 423.0C328.1 428.3 327.7 427.3 328.5 432.0C329.3 436.7 328.5 435.3 328.5 437.0L254.2 436.0L254.2 214.0Z" fill="#FF1400"/>
<ellipse cx="305.6" cy="374.9" rx="16.2" ry="12.2" fill="#FFA010"/>
<ellipse cx="303" cy="374.6" rx="8.5" ry="6" fill="#FFAE14"/>
<ellipse cx="302.3" cy="374.5" rx="1.3" ry="1.1" fill="#FFE020"/>
</g></g>
<circle cx="16.1" cy="134.5" r="14.3" fill="url(#gR)"/>
<circle cx="93.9" cy="134.8" r="14.6" fill="url(#gC)"/>
<circle cx="139.6" cy="83" r="14.7" fill="url(#gS)"/>
<g stroke="#0a0a14" stroke-width="1.15" fill="none">
<path d="M16.1 134.6H93.9"/>
<path d="M96 134.6H157.5" stroke-dasharray="4 2.6"/>
<path d="M52.5 134.6L140.4 83L93.9 134.6"/>
</g>
<g stroke="#0a0a14" stroke-width="0.8" fill="none">
<path d="M117.6 134.6A23.7 23.7 0 0 0 109.6 117"/>
<path d="M63.5 134.6A11 11 0 0 0 61.9 129"/>
</g>
<g font-family="'Liberation Sans',sans-serif" fill="#0a0a14" stroke="#0a0a14" stroke-width="0.25">
<text x="91" y="110.1" font-size="8.3" font-style="italic">R</text>
<text x="52" y="141.7" font-size="8.6" font-style="italic">r</text>
<text x="63" y="132.8" font-size="5.4" font-style="italic">φ</text>
<text x="117.4" y="116.5" font-size="8.4">R<tspan font-size="5.2" dy="1.3">cs</tspan></text>
<text x="115.2" y="126.2" font-size="8">χ</text>
</g>
<circle cx="205.0" cy="92.4" r="6.6" fill="url(#gR)" stroke="#b00808" stroke-width="0.9"/>
<text x="205.0" y="94.8" text-anchor="middle" font-family="'Liberation Sans',sans-serif" font-weight="bold" font-size="6.8" fill="#7a0000">O</text>
<circle cx="204.7" cy="110.4" r="6.6" fill="url(#gC)" stroke="#1a2424" stroke-width="0.9"/>
<text x="204.7" y="113.3" text-anchor="middle" font-family="'Liberation Sans',sans-serif" font-weight="bold" font-size="8.0" fill="#060c0c">C</text>
<circle cx="204.2" cy="128.5" r="6.6" fill="url(#gS)" stroke="#a4b812" stroke-width="0.9"/>
<text x="204.2" y="131.4" text-anchor="middle" font-family="'Liberation Sans',sans-serif" font-weight="bold" font-size="8.0" fill="#0a0a00">S</text>
<g stroke="#111" stroke-width="0.8" fill="none">
<path d="M258 3.4H470.8V215.6H256.3"/>
<path d="M256.2 3.4H258.4"/>
<path d="M256.2 27.0H258.4"/>
<path d="M256.2 50.5H258.4"/>
<path d="M256.2 74.1H258.4"/>
<path d="M256.2 97.7H258.4"/>
<path d="M256.2 121.2H258.4"/>
<path d="M256.2 144.8H258.4"/>
<path d="M256.2 168.4H258.4"/>
<path d="M256.2 192.0H258.4"/>
<path d="M256.2 215.5H258.4"/>
<path d="M41 219.1H253.6V430.8H39.3"/>
<path d="M39.3 219.1H41.5"/>
<path d="M39.3 242.6H41.5"/>
<path d="M39.3 266.1H41.5"/>
<path d="M39.3 289.7H41.5"/>
<path d="M39.3 313.2H41.5"/>
<path d="M39.3 336.7H41.5"/>
<path d="M39.3 360.2H41.5"/>
<path d="M39.3 383.7H41.5"/>
<path d="M39.3 407.3H41.5"/>
<path d="M39.3 430.8H41.5"/>
<path d="M70.9 430.6V433.4"/>
<path d="M101.2 430.6V433.4"/>
<path d="M131.5 430.6V433.4"/>
<path d="M161.8 430.6V433.4"/>
<path d="M192.1 430.6V433.4"/>
<path d="M222.4 430.6V433.4"/>
<path d="M252.7 430.6V433.4"/>
<path d="M470.4 219.3V430.8H258"/>
<path d="M258 219.5H470.8" stroke-opacity="0.35"/>
<path d="M288.2 430.6V433.4"/>
<path d="M318.5 430.6V433.4"/>
<path d="M348.8 430.6V433.4"/>
<path d="M379.1 430.6V433.4"/>
<path d="M409.4 430.6V433.4"/>
<path d="M439.7 430.6V433.4"/>
<path d="M470.0 430.6V433.4"/>
</g>
<g stroke="#500" stroke-opacity="0.55" stroke-width="0.9" fill="none"><path d="M258.6 3.4V215.6M41.7 219V431M258.5 219.5V431"/></g>
<g font-family="'Liberation Serif',serif" font-size="10.6" fill="#111">
<text x="251.5" y="7.2" text-anchor="end" font-size="10.9">180</text>
<text x="251.5" y="30.7" text-anchor="end" font-size="10.9">160</text>
<text x="251.5" y="54.3" text-anchor="end" font-size="10.9">140</text>
<text x="251.5" y="77.9" text-anchor="end" font-size="10.9">120</text>
<text x="251.5" y="101.4" text-anchor="end" font-size="10.9">100</text>
<text x="251.5" y="125.0" text-anchor="end" font-size="10.9">80</text>
<text x="251.5" y="148.6" text-anchor="end" font-size="10.9">60</text>
<text x="251.5" y="172.1" text-anchor="end" font-size="10.9">40</text>
<text x="251.5" y="195.7" text-anchor="end" font-size="10.9">20</text>
<text x="251.5" y="219.3" text-anchor="end" font-size="10.9">0</text>
<text x="34.3" y="222.8" text-anchor="end">180</text>
<text x="34.3" y="246.3" text-anchor="end">160</text>
<text x="34.3" y="269.8" text-anchor="end">140</text>
<text x="34.3" y="293.4" text-anchor="end">120</text>
<text x="34.3" y="316.9" text-anchor="end">100</text>
<text x="34.3" y="340.4" text-anchor="end">80</text>
<text x="34.3" y="363.9" text-anchor="end">60</text>
<text x="34.3" y="387.4" text-anchor="end">40</text>
<text x="34.3" y="411.0" text-anchor="end">20</text>
<text x="34.3" y="434.5" text-anchor="end">0</text>
<text x="70.9" y="447.8" text-anchor="middle">2.0</text>
<text x="288.2" y="447.8" text-anchor="middle">2.0</text>
<text x="101.2" y="447.8" text-anchor="middle">2.5</text>
<text x="318.5" y="447.8" text-anchor="middle">2.5</text>
<text x="131.5" y="447.8" text-anchor="middle">3.0</text>
<text x="348.8" y="447.8" text-anchor="middle">3.0</text>
<text x="161.8" y="447.8" text-anchor="middle">3.5</text>
<text x="379.1" y="447.8" text-anchor="middle">3.5</text>
<text x="192.1" y="447.8" text-anchor="middle">4.0</text>
<text x="409.4" y="447.8" text-anchor="middle">4.0</text>
<text x="222.4" y="447.8" text-anchor="middle">4.5</text>
<text x="439.7" y="447.8" text-anchor="middle">4.5</text>
<text x="252.7" y="447.8" text-anchor="middle">5.0</text>
<text x="470.0" y="447.8" text-anchor="middle">5.0</text>
</g>
<text transform="translate(16.2 331.3) rotate(-90)" text-anchor="middle" font-family="'Liberation Sans',sans-serif" font-weight="bold" font-size="11" fill="#111"><tspan font-style="italic">θ</tspan> (Degree)</text>
<text transform="translate(226.4 108.4) rotate(-90)" text-anchor="middle" font-family="'Liberation Sans',sans-serif" font-weight="bold" font-size="11" fill="#111"><tspan font-style="italic">θ</tspan> (Degree)</text>
<text x="143.2" y="460.8" font-family="'Liberation Sans',sans-serif" font-weight="bold" font-style="italic" font-size="9.4" fill="#111">R</text>
<text x="154.4" y="461.4" font-family="'Liberation Serif',serif" font-weight="bold" font-size="12.2" fill="#111">(Å)</text>
<text x="360.2" y="460.8" font-family="'Liberation Sans',sans-serif" font-weight="bold" font-style="italic" font-size="9.4" fill="#111">R</text>
<text x="371.4" y="461.4" font-family="'Liberation Serif',serif" font-weight="bold" font-size="12.2" fill="#111">(Å)</text>
<text x="49.3" y="96.4" font-family="'Liberation Serif',serif" font-weight="bold" font-size="21.3" fill="#111">a</text>
<text x="436.2" y="189.6" font-family="'Liberation Serif',serif" font-weight="bold" font-size="21.3" fill="#111">b</text>
<text x="220.2" y="408.6" font-family="'Liberation Serif',serif" font-weight="bold" font-size="21.3" fill="#111">c</text>
<text x="435.6" y="412.8" font-family="'Liberation Serif',serif" font-weight="bold" font-size="21.3" fill="#111">d</text>
<rect x="416.3" y="20.3" width="33.6" height="59.9" fill="#fff" stroke="#222" stroke-width="0.8"/>
<rect x="422.0" y="27.0" width="14.1" height="6.3" fill="#00009E"/>
<text x="438.8" y="32.2" font-family="'Liberation Sans',sans-serif" font-size="5.8" fill="#222">0</text>
<rect x="422.0" y="35.2" width="14.1" height="6.3" fill="#0000C4"/>
<text x="438.8" y="40.5" font-family="'Liberation Sans',sans-serif" font-size="5.8" fill="#222">1</text>
<rect x="422.0" y="43.5" width="14.1" height="6.3" fill="#0A32FF"/>
<text x="438.8" y="48.7" font-family="'Liberation Sans',sans-serif" font-size="5.8" fill="#222">2</text>
<rect x="422.0" y="51.7" width="14.1" height="6.3" fill="#3CFF14"/>
<text x="438.8" y="57.0" font-family="'Liberation Sans',sans-serif" font-size="5.8" fill="#222">3</text>
<rect x="422.0" y="60.0" width="14.1" height="6.3" fill="#FFB91E"/>
<text x="438.8" y="65.2" font-family="'Liberation Sans',sans-serif" font-size="5.8" fill="#222">4</text>
<rect x="422.0" y="68.2" width="14.1" height="6.3" fill="#FF1E0A"/>
<text x="438.8" y="73.5" font-family="'Liberation Sans',sans-serif" font-size="5.8" fill="#222">5</text>
<text x="450.6" y="28.7" font-family="'Liberation Serif',serif" font-weight="bold" font-size="8.6" fill="#3a1800">(eV)</text>
<rect x="172.3" y="229.7" width="38.7" height="70.9" fill="#fff" stroke="#222" stroke-width="0.8"/>
<rect x="177.8" y="236.3" width="13.8" height="6.2" fill="#00009E"/>
<text x="194.9" y="241.5" font-family="'Liberation Sans',sans-serif" font-size="5.8" fill="#222">0</text>
<rect x="177.8" y="246.8" width="13.8" height="6.2" fill="#0000C4"/>
<text x="194.9" y="252.0" font-family="'Liberation Sans',sans-serif" font-size="5.8" fill="#222">1</text>
<rect x="177.8" y="257.3" width="13.8" height="6.2" fill="#0A32FF"/>
<text x="194.9" y="262.5" font-family="'Liberation Sans',sans-serif" font-size="5.8" fill="#222">2</text>
<rect x="177.8" y="267.8" width="13.8" height="6.2" fill="#3CFF14"/>
<text x="194.9" y="273.0" font-family="'Liberation Sans',sans-serif" font-size="5.8" fill="#222">3</text>
<rect x="177.8" y="278.3" width="13.8" height="6.2" fill="#FFB91E"/>
<text x="194.9" y="283.5" font-family="'Liberation Sans',sans-serif" font-size="5.8" fill="#222">4</text>
<rect x="177.8" y="288.8" width="13.8" height="6.2" fill="#FF1E0A"/>
<text x="194.9" y="294.0" font-family="'Liberation Sans',sans-serif" font-size="5.8" fill="#222">5</text>
<text x="211.8" y="239.8" font-family="'Liberation Serif',serif" font-weight="bold" font-size="8.6" fill="#3a1800">(eV)</text>
<rect x="409.4" y="234.4" width="38.3" height="71.0" fill="#fff" stroke="#222" stroke-width="0.8"/>
<rect x="415.4" y="240.5" width="13.6" height="6.3" fill="#00009E"/>
<text x="431.9" y="245.8" font-family="'Liberation Sans',sans-serif" font-size="5.8" fill="#222">0</text>
<rect x="415.4" y="251.1" width="13.6" height="6.3" fill="#0000C4"/>
<text x="431.9" y="256.4" font-family="'Liberation Sans',sans-serif" font-size="5.8" fill="#222">1</text>
<rect x="415.4" y="261.8" width="13.6" height="6.3" fill="#0A32FF"/>
<text x="431.9" y="267.0" font-family="'Liberation Sans',sans-serif" font-size="5.8" fill="#222">2</text>
<rect x="415.4" y="272.4" width="13.6" height="6.3" fill="#3CFF14"/>
<text x="431.9" y="277.6" font-family="'Liberation Sans',sans-serif" font-size="5.8" fill="#222">3</text>
<rect x="415.4" y="282.9" width="13.6" height="6.3" fill="#FFB91E"/>
<text x="431.9" y="288.2" font-family="'Liberation Sans',sans-serif" font-size="5.8" fill="#222">4</text>
<rect x="415.4" y="293.6" width="13.6" height="6.3" fill="#FF1E0A"/>
<text x="431.9" y="298.8" font-family="'Liberation Sans',sans-serif" font-size="5.8" fill="#222">5</text>
<text x="449.2" y="244.2" font-family="'Liberation Serif',serif" font-weight="bold" font-size="8.6" fill="#3a1800">(eV)</text>
<g stroke="#fff" stroke-width="1.15" fill="none"><path d="M296.9 215.6A4.4 4.6 0 0 1 305.7 215.6"/><path d="M298.9 212.2L302.2 215.6M303.7 212.2L300.4 215.6" stroke-width="0.9"/></g>
</svg>
</body></html>
